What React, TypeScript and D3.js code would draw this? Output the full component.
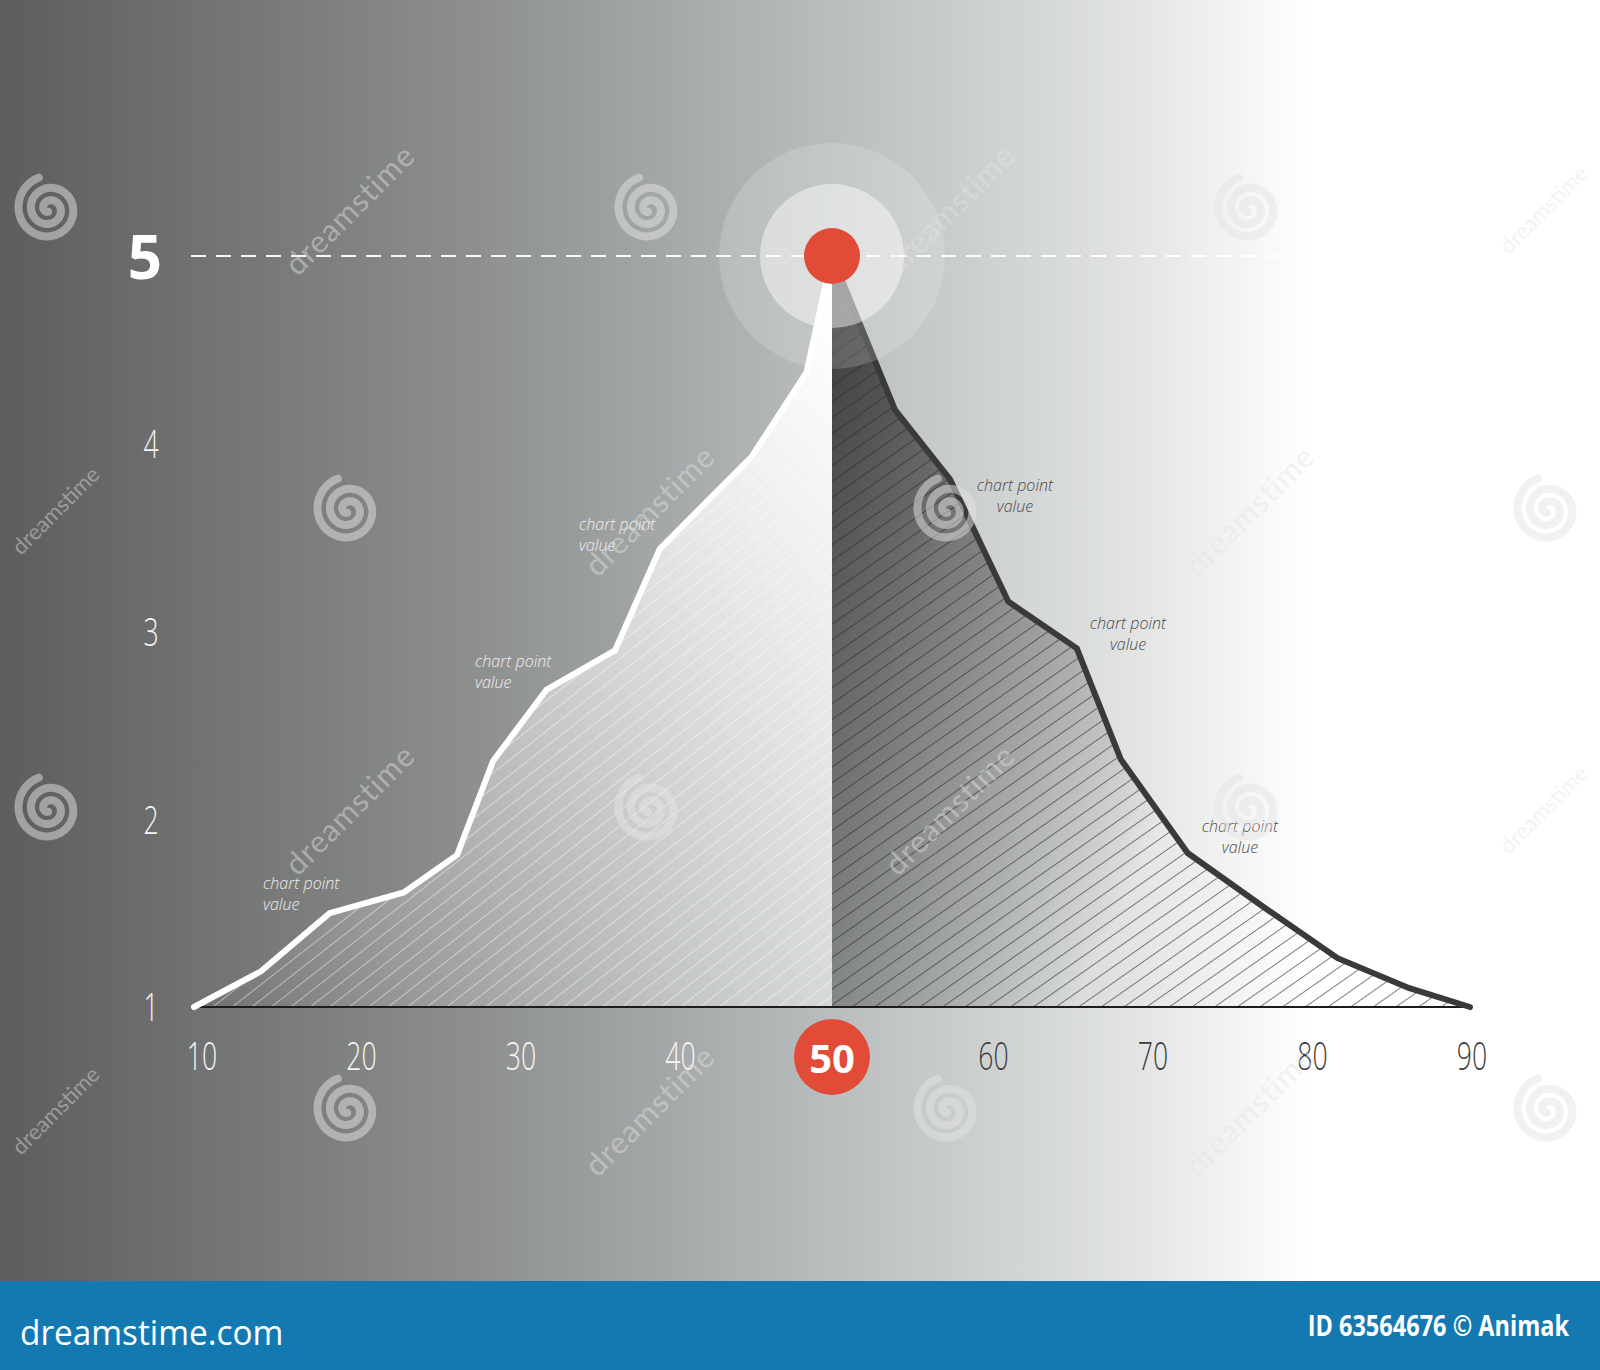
import React, { useEffect } from "react";
import * as d3 from "d3";

// ---- data ----
const leftX = [10, 14.2, 18.5, 23.15, 26.5, 28.75, 32.1, 36.4, 39.2, 44.95, 48.4, 50];
const leftY = [1, 1.19, 1.5, 1.61, 1.81, 2.31, 2.69, 2.9, 3.44, 3.93, 4.38, 5];
const rightX = [50, 53.95, 57.4, 61.05, 65.35, 68.1, 72.3, 77.1, 81.7, 86.2, 90];
const rightY = [5, 4.18, 3.81, 3.16, 2.91, 2.32, 1.82, 1.53, 1.26, 1.1, 1];
const xTicks = [10, 20, 30, 40, 50, 60, 70, 80, 90];
const yTicks = [1, 2, 3, 4, 5];
const peakX = 50;
const peakY = 5;
const noteX = [14.33, 27.62, 34.14, 61.47, 68.56, 75.58];
const noteY = [1.66, 2.84, 3.57, 3.78, 3.04, 1.96];
const noteLines = ["chart point", "value"];
const footerLeft = "dreamstime.com";
const footerRight = "ID 63564676 \u00A9 Animak";
const watermarkText = "dreamstime";
// watermark grid (page pixels)
const wmLogoX = [49, 649, 1249, 348, 948, 1548, 49, 649, 1249, 348, 948, 1548];
const wmLogoY = [209, 209, 209, 510, 510, 510, 809, 809, 809, 1110, 1110, 1110];
const wmTextX = [349, 949, 1549, 49, 649, 1249, 349, 949, 1549, 49, 649, 1249];
const wmTextY = [209, 209, 209, 510, 510, 510, 809, 809, 809, 1110, 1110, 1110];

const W = 1600;
const H = 1370;
const BANNER_Y = 1281;

function spiralPath(): string {
  const pts: [number, number][] = [];
  const turns = 2.4;
  const steps = 160;
  for (let i = 0; i <= steps; i++) {
    const t = (i / steps) * turns * 2 * Math.PI;
    const r = 3 + (30 / (turns * 2 * Math.PI)) * t;
    pts.push([r * Math.cos(t + Math.PI * 0.6), r * Math.sin(t + Math.PI * 0.6)]);
  }
  return d3.line().curve(d3.curveBasis)(pts) || "";
}

export default function App() {
  useEffect(() => {
    document.body.style.margin = "0";
  }, []);

  const x = d3.scaleLinear().domain([10, 90]).range([194, 1470]);
  const y = d3.scaleLinear().domain([1, 5]).range([1007, 256]);

  const leftPts: [number, number][] = leftX.map((v, i) => [v, leftY[i]]);
  const rightPts: [number, number][] = rightX.map((v, i) => [v, rightY[i]]);

  const line = d3
    .line<[number, number]>()
    .x((d) => x(d[0]))
    .y((d) => y(d[1]));
  const area = d3
    .area<[number, number]>()
    .x((d) => x(d[0]))
    .y0(y(1))
    .y1((d) => y(d[1]));

  const px = x(peakX);
  const py = y(peakY);
  const tickFont = "'Open Sans', 'Noto Sans', sans-serif";
  const spiral = spiralPath();

  return (
    <svg
      width={W}
      height={H}
      viewBox={`0 0 ${W} ${H}`}
      style={{ display: "block", position: "absolute", left: 0, top: 0 }}
    >
      <defs>
        <linearGradient id="bg" x1="0" y1="0" x2={W} y2="0" gradientUnits="userSpaceOnUse">
          <stop offset="0" stopColor="#5d5d5d" />
          <stop offset="0.12" stopColor="#707171" />
          <stop offset="0.3" stopColor="#8e9090" />
          <stop offset="0.5" stopColor="#b5b9b9" />
          <stop offset="0.7" stopColor="#e0e2e2" />
          <stop offset="0.82" stopColor="#ffffff" />
          <stop offset="1" stopColor="#ffffff" />
        </linearGradient>
        <linearGradient id="leftFill" x1={px} y1={300} x2={223} y2={1007} gradientUnits="userSpaceOnUse">
          <stop offset="0" stopColor="#ffffff" stopOpacity="1" />
          <stop offset="1" stopColor="#ffffff" stopOpacity="0" />
        </linearGradient>
        <linearGradient id="rightFill" x1={px} y1={300} x2={1305} y2={524} gradientUnits="userSpaceOnUse">
          <stop offset="0" stopColor="#333333" stopOpacity="0.93" />
          <stop offset="1" stopColor="#333333" stopOpacity="0" />
        </linearGradient>
        <pattern id="hatchL" width="12" height="10" patternUnits="userSpaceOnUse" patternTransform="rotate(52)">
          <line x1="0.5" y1="0" x2="0.5" y2="10" stroke="#ffffff" strokeOpacity="0.45" strokeWidth="1" />
        </pattern>
        <pattern id="hatchR" width="13" height="10" patternUnits="userSpaceOnUse" patternTransform="rotate(55)">
          <line x1="0.5" y1="0" x2="0.5" y2="10" stroke="#2a2a2a" strokeOpacity="0.6" strokeWidth="1" />
        </pattern>
      </defs>

      {/* background */}
      <rect x={0} y={0} width={W} height={BANNER_Y} fill="url(#bg)" />

      {/* fills */}
      <path d={area(leftPts) || ""} fill="url(#leftFill)" />
      <path d={area(leftPts) || ""} fill="url(#hatchL)" />
      <path d={area(rightPts) || ""} fill="url(#rightFill)" />
      <path d={area(rightPts) || ""} fill="url(#hatchR)" />

      {/* baseline */}
      <line x1={x(10)} x2={x(90)} y1={y(1)} y2={y(1)} stroke="#1c1c1c" strokeWidth={1.8} />

      {/* curves */}
      <path d={line(leftPts) || ""} fill="none" stroke="#ffffff" strokeWidth={6} strokeLinecap="round" strokeLinejoin="miter" />
      <path d={line(rightPts) || ""} fill="none" stroke="#3a3a3a" strokeWidth={6} strokeLinecap="round" strokeLinejoin="miter" />

      {/* dashed guide at peak value */}
      <line x1={191} x2={1288} y1={py} y2={py} stroke="#ffffff" strokeOpacity={0.95} strokeWidth={2.2} strokeDasharray="15 10" />

      {/* halo + peak dot */}
      <circle cx={px} cy={py} r={113} fill="#ffffff" fillOpacity={0.17} />
      <circle cx={px} cy={py} r={72} fill="#ffffff" fillOpacity={0.45} />
      <circle cx={px} cy={py} r={28} fill="#e14b37" />

      {/* y tick labels */}
      {yTicks.map((t) =>
        t === peakY ? (
          <text
            key={t}
            x={145}
            y={y(t)}
            textAnchor="middle"
            dominantBaseline="central"
            fontFamily={tickFont}
            fontWeight={700}
            fontSize={60}
            fill="#ffffff"
          >
            {t}
          </text>
        ) : (
          <text
            key={t}
            transform={`translate(151,${y(t)}) scale(0.7,1)`}
            textAnchor="middle"
            dominantBaseline="central"
            fontFamily={tickFont}
            fontWeight={300}
            fontSize={38}
            fill="#f4f4f4"
          >
            {t}
          </text>
        )
      )}

      {/* x tick labels */}
      {xTicks.map((t) =>
        t === peakX ? (
          <g key={t}>
            <circle cx={x(t)} cy={1057} r={38} fill="#e14b37" />
            <text
              x={x(t)}
              y={1057}
              textAnchor="middle"
              dominantBaseline="central"
              fontFamily={tickFont}
              fontWeight={700}
              fontSize={40}
              fill="#ffffff"
            >
              {t}
            </text>
          </g>
        ) : (
          <text
            key={t}
            transform={`translate(${x(t) + (t < peakX ? 8 : 2)},1056) scale(0.7,1)`}
            textAnchor="middle"
            dominantBaseline="central"
            fontFamily={tickFont}
            fontWeight={300}
            fontSize={38}
            fill={t < peakX ? "#f6f6f6" : "#3c3c3c"}
          >
            {t}
          </text>
        )
      )}

      {/* annotations */}
      {noteX.map((nx, i) => {
        const left = nx < peakX;
        return (
          <text
            key={i}
            x={x(nx)}
            y={y(noteY[i])}
            textAnchor={left ? "start" : "middle"}
            fontFamily={tickFont}
            fontStyle="italic"
            fontWeight={300}
            fontSize={16}
            fill={left ? "#f0f0f0" : "#4a4a4a"}
          >
            {noteLines.map((s, j) => (
              <tspan key={j} x={x(nx)} dy={j === 0 ? 5.5 : 21}>
                {s}
              </tspan>
            ))}
          </text>
        );
      })}

      {/* watermark overlay */}
      <g pointerEvents="none">
        {wmLogoX.map((lx, i) => (
          <path
            key={"l" + i}
            d={spiral}
            transform={`translate(${lx},${wmLogoY[i]})`}
            fill="none"
            stroke="#e4e4e4"
            strokeOpacity={0.5}
            strokeWidth={8}
            strokeLinecap="round"
          />
        ))}
        {wmTextX.map((tx, i) => {
          const edge = tx < 100 || tx > W - 100;
          const cx = tx < 100 ? tx + 6 : tx > W - 100 ? tx - 6 : tx;
          return (
            <text
              key={"t" + i}
              transform={`translate(${cx},${wmTextY[i]}) rotate(-45)`}
              textAnchor="middle"
              dominantBaseline="central"
              fontFamily="'Lato', 'Noto Sans', sans-serif"
              fontSize={edge ? 22 : 31}
              letterSpacing={edge ? 0 : 1}
              fill="#e4e4e4"
              fillOpacity={0.45}
            >
              {watermarkText}
            </text>
          );
        })}
      </g>

      {/* banner */}
      <rect x={0} y={BANNER_Y} width={W} height={H - BANNER_Y} fill="#1479b1" />
      <text
        transform="translate(20,1345) scale(0.98,1)"
        fontFamily={tickFont}
        fontSize={34}
        fill="#ffffff"
      >
        {footerLeft}
      </text>
      <text
        transform="translate(1569,1336) scale(0.84,1)"
        textAnchor="end"
        fontFamily={tickFont}
        fontWeight={700}
        fontSize={28}
        fill="#ffffff"
      >
        {footerRight}
      </text>
    </svg>
  );
}
